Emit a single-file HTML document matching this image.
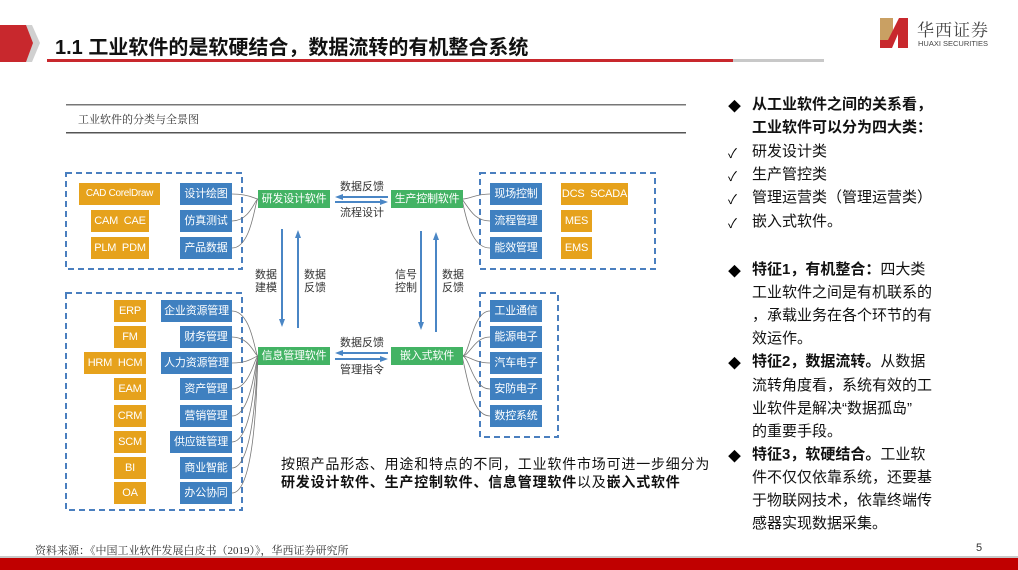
<!DOCTYPE html>
<html><head><meta charset="utf-8"><style>
body{margin:0;width:1018px;height:570px;position:relative;overflow:hidden;background:#fff;font-family:"Liberation Sans","Noto Sans CJK SC",sans-serif;}
.a{position:absolute;}
.b{position:absolute;height:22px;line-height:22px;text-align:center;color:#fff;font-size:11px;white-space:nowrap;letter-spacing:-0.2px;}
.o{background:#e6a21c;}
.u{background:#3f80c0;}
.g{background:#43b364;height:18px;line-height:18px;width:72px;}
.l{position:absolute;font-size:11px;color:#333;white-space:nowrap;line-height:13px;}
.r{position:absolute;left:752px;font-size:15px;color:#111;white-space:nowrap;line-height:23px;}
.m{position:absolute;left:728px;font-size:13px;color:#000;}
</style></head><body>
<svg class="a" style="left:0;top:0" width="1018" height="570">
<polygon points="0,25 32,25 40,43 32,62 0,62" fill="#d0d0d0"/>
<polygon points="0,25 26,25 33,43 26,62 0,62" fill="#c8282d"/>
<rect x="47" y="59" width="686" height="3" fill="#c8282d"/>
<rect x="733" y="59" width="91" height="3" fill="#c8c8c8"/>
<polygon points="880,18 893,18 893,30 899,18 908,18 908,48 898,48 898,34 892,48 880,48" fill="#c8282d"/>
<polygon points="880,18 893,18 893,30 888,40 880,40" fill="#c9a063"/>
<rect x="66" y="104" width="620" height="1.5" fill="#777"/>
<rect x="66" y="132" width="620" height="1.5" fill="#555"/>
<g fill="none" stroke="#4a7fbf" stroke-width="2" stroke-dasharray="6,4">
<rect x="66" y="173" width="176" height="96"/>
<rect x="480" y="173" width="175" height="96"/>
<rect x="66" y="293" width="176" height="217"/>
<rect x="480" y="293" width="78" height="144"/>
</g>
<g fill="none" stroke="#777" stroke-width="0.8">
<path d="M232,194 C250,194 255,199 258,199"/>
<path d="M232,221 C250,221 255,199 258,199"/>
<path d="M232,248 C252,248 255,199 258,199"/>
<path d="M462,199 C470,199 475,194 490,194"/>
<path d="M462,199 C470,210 475,221 490,221"/>
<path d="M462,199 C468,230 475,248 490,248"/>
<path d="M232,311 C252,311 255,356 258,356"/>
<path d="M232,337 C250,337 255,356 258,356"/>
<path d="M232,363 C250,363 255,356 258,356"/>
<path d="M232,389 C250,389 255,356 258,356"/>
<path d="M232,416 C252,416 256,356 258,356"/>
<path d="M232,442 C254,442 256,356 258,356"/>
<path d="M232,468 C256,468 257,356 258,356"/>
<path d="M232,493 C258,493 257,356 258,356"/>
<path d="M462,356 C470,356 472,311 490,311"/>
<path d="M462,356 C470,356 474,337 490,337"/>
<path d="M462,356 C470,356 474,363 490,363"/>
<path d="M462,356 C470,356 472,389 490,389"/>
<path d="M462,356 C468,380 472,416 490,416"/>
</g>
<g stroke="#4a86c5" stroke-width="2" fill="#4a86c5">
<line x1="388" y1="197" x2="340" y2="197"/><polygon points="335,197 343,194 343,200" stroke="none"/>
<line x1="335" y1="202" x2="383" y2="202"/><polygon points="388,202 380,199 380,205" stroke="none"/>
<line x1="388" y1="353" x2="340" y2="353"/><polygon points="335,353 343,350 343,356" stroke="none"/>
<line x1="335" y1="359" x2="383" y2="359"/><polygon points="388,359 380,356 380,362" stroke="none"/>
<line x1="282" y1="229" x2="282" y2="321"/><polygon points="282,327 279,319 285,319" stroke="none"/>
<line x1="298" y1="328" x2="298" y2="236"/><polygon points="298,230 295,238 301,238" stroke="none"/>
<line x1="421" y1="231" x2="421" y2="324"/><polygon points="421,330 418,322 424,322" stroke="none"/>
<line x1="436" y1="332" x2="436" y2="238"/><polygon points="436,232 433,240 439,240" stroke="none"/>
</g>
<rect x="0" y="556" width="1018" height="2" fill="#c8c8c8"/>
<rect x="0" y="558" width="1018" height="12" fill="#c00000"/>
</svg>
<div class="a" style="left:55px;top:31px;font-size:20px;font-weight:bold;color:#111;">1.1 工业软件的是软硬结合，数据流转的有机整合系统</div>
<div class="a" style="left:917px;top:19px;font-size:17px;line-height:19px;color:#444;font-family:'Noto Serif CJK SC',serif;letter-spacing:1px;">华西证券</div>
<div class="a" style="left:918px;top:39px;font-size:7.5px;line-height:9px;color:#444;">HUAXI SECURITIES</div>
<div class="a" style="left:78px;top:111px;font-size:11px;color:#333;font-family:'Liberation Serif','Noto Serif CJK SC',serif;">工业软件的分类与全景图</div>

<div class="b o" style="left:79px;top:183px;width:81px;font-size:10px;letter-spacing:-0.3px;">CAD CorelDraw</div>
<div class="b o" style="left:91px;top:210px;width:58px;">CAM&nbsp;&nbsp;CAE</div>
<div class="b o" style="left:91px;top:237px;width:58px;">PLM&nbsp;&nbsp;PDM</div>
<div class="b u" style="left:180px;top:183px;width:52px;">设计绘图</div>
<div class="b u" style="left:180px;top:210px;width:52px;">仿真测试</div>
<div class="b u" style="left:180px;top:237px;width:52px;">产品数据</div>
<div class="b g" style="left:258px;top:190px;">研发设计软件</div>
<div class="b g" style="left:391px;top:190px;">生产控制软件</div>
<div class="b g" style="left:258px;top:347px;">信息管理软件</div>
<div class="b g" style="left:391px;top:347px;">嵌入式软件</div>
<div class="b u" style="left:490px;top:183px;width:52px;">现场控制</div>
<div class="b u" style="left:490px;top:210px;width:52px;">流程管理</div>
<div class="b u" style="left:490px;top:237px;width:52px;">能效管理</div>
<div class="b o" style="left:561px;top:183px;width:67px;">DCS&nbsp;&nbsp;SCADA</div>
<div class="b o" style="left:561px;top:210px;width:31px;">MES</div>
<div class="b o" style="left:561px;top:237px;width:31px;">EMS</div>
<div class="b o" style="left:114px;top:300px;width:32px;">ERP</div>
<div class="b o" style="left:114px;top:326px;width:32px;">FM</div>
<div class="b o" style="left:84px;top:352px;width:62px;">HRM&nbsp;&nbsp;HCM</div>
<div class="b o" style="left:114px;top:378px;width:32px;">EAM</div>
<div class="b o" style="left:114px;top:405px;width:32px;">CRM</div>
<div class="b o" style="left:114px;top:431px;width:32px;">SCM</div>
<div class="b o" style="left:114px;top:457px;width:32px;">BI</div>
<div class="b o" style="left:114px;top:482px;width:32px;">OA</div>
<div class="b u" style="left:161px;top:300px;width:71px;">企业资源管理</div>
<div class="b u" style="left:180px;top:326px;width:52px;">财务管理</div>
<div class="b u" style="left:161px;top:352px;width:71px;">人力资源管理</div>
<div class="b u" style="left:180px;top:378px;width:52px;">资产管理</div>
<div class="b u" style="left:180px;top:405px;width:52px;">营销管理</div>
<div class="b u" style="left:170px;top:431px;width:62px;">供应链管理</div>
<div class="b u" style="left:180px;top:457px;width:52px;">商业智能</div>
<div class="b u" style="left:180px;top:482px;width:52px;">办公协同</div>
<div class="b u" style="left:490px;top:300px;width:52px;">工业通信</div>
<div class="b u" style="left:490px;top:326px;width:52px;">能源电子</div>
<div class="b u" style="left:490px;top:352px;width:52px;">汽车电子</div>
<div class="b u" style="left:490px;top:378px;width:52px;">安防电子</div>
<div class="b u" style="left:490px;top:405px;width:52px;">数控系统</div>
<div class="l" style="left:340px;top:181px;">数据反馈</div>
<div class="l" style="left:340px;top:207px;">流程设计</div>
<div class="l" style="left:340px;top:337px;">数据反馈</div>
<div class="l" style="left:340px;top:364px;">管理指令</div>
<div class="l" style="left:255px;top:269px;">数据<br>建模</div>
<div class="l" style="left:304px;top:269px;">数据<br>反馈</div>
<div class="l" style="left:395px;top:269px;">信号<br>控制</div>
<div class="l" style="left:442px;top:269px;">数据<br>反馈</div>
<div class="a" style="left:281px;top:455px;font-size:14px;line-height:18px;color:#111;white-space:nowrap;letter-spacing:0.8px;">按照产品形态、用途和特点的不同，工业软件市场可进一步细分为<br><b>研发设计软件、生产控制软件、信息管理软件</b>以及<b>嵌入式软件</b></div>
<div class="m" style="top:96px;">◆</div>
<div class="r" style="top:93px;font-weight:bold;">从工业软件之间的关系看，</div>
<div class="r" style="top:116px;font-weight:bold;">工业软件可以分为四大类：</div>
<div class="m" style="top:143px;">✓</div><div class="r" style="top:140px;">研发设计类</div>
<div class="m" style="top:166px;">✓</div><div class="r" style="top:163px;">生产管控类</div>
<div class="m" style="top:189px;">✓</div><div class="r" style="top:186px;">管理运营类（管理运营类）</div>
<div class="m" style="top:213px;">✓</div><div class="r" style="top:210px;">嵌入式软件。</div>
<div class="m" style="top:261px;">◆</div>
<div class="r" style="top:258px;"><b>特征1，有机整合：</b>四大类</div>
<div class="r" style="top:281px;">工业软件之间是有机联系的</div>
<div class="r" style="top:304px;">，承载业务在各个环节的有</div>
<div class="r" style="top:327px;">效运作。</div>
<div class="m" style="top:353px;">◆</div>
<div class="r" style="top:350px;"><b>特征2，数据流转。</b>从数据</div>
<div class="r" style="top:374px;">流转角度看，系统有效的工</div>
<div class="r" style="top:397px;">业软件是解决“数据孤岛”</div>
<div class="r" style="top:420px;">的重要手段。</div>
<div class="m" style="top:446px;">◆</div>
<div class="r" style="top:443px;"><b>特征3，软硬结合。</b>工业软</div>
<div class="r" style="top:466px;">件不仅仅依靠系统，还要基</div>
<div class="r" style="top:489px;">于物联网技术，依靠终端传</div>
<div class="r" style="top:512px;">感器实现数据采集。</div>
<div class="a" style="left:35px;top:542px;font-size:11px;color:#333;font-family:'Liberation Serif','Noto Serif CJK SC',serif;">资料来源：《中国工业软件发展白皮书（2019）》，华西证券研究所</div>
<div class="a" style="left:976px;top:542px;font-size:11px;color:#333;">5</div>
</body></html>
